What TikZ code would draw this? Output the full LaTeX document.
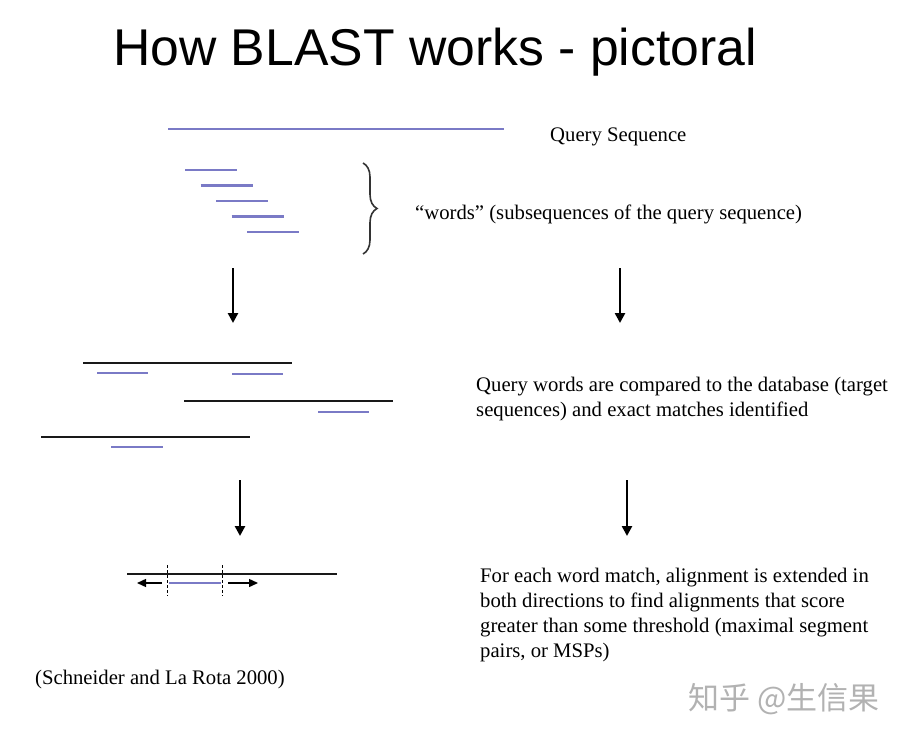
\documentclass[tikz,border=0pt]{standalone}
\usepackage{fontspec}
\setmainfont{Liberation Serif}
\newfontfamily\titlefont{Liberation Sans}
\newfontfamily\cjkfont{Noto Sans CJK SC}
\usepackage{xcolor}
\usetikzlibrary{arrows.meta, decorations.pathreplacing, calc}

\definecolor{qblue}{RGB}{122,122,198}

\begin{document}
\begin{tikzpicture}[
    x=1pt, y=-1pt,
    seq/.style   = {line width=2.8pt, qblue},
    target/.style= {line width=2.8pt, black!90},
    txt/.style   = {anchor=base west, inner sep=0pt, align=left,
                    font=\fontsize{20.7}{24.7}\selectfont},
    flow/.style  = {-{Triangle[length=10pt,width=10pt]}, line width=2.6pt},
    cut/.style   = {densely dashed, line width=0.9pt},
  ]
  \useasboundingbox[fill=white] (0,0) rectangle (909,735);

  % title
  \node[anchor=base west, inner sep=0pt, font=\titlefont\fontsize{51.7}{60}\selectfont]
    (title) at (113,66) {How BLAST works - pictoral};

  % query and words
  \draw[seq] (168,129) -- (504,129);
  \foreach \i in {0,...,4}
    \draw[seq] ({185+15.5*\i},{170+15.5*\i}) -- ++(52,0);
  \draw[line width=1.6pt, black!80, decorate, decoration={brace, amplitude=14pt}]
    (363,163) -- (363,254);
  \node[txt] (query) at (550,142) {Query Sequence};
  \node[txt] (words) at (415,219) {``words'' (subsequences of the query sequence)};

  % first step arrows
  \coordinate (a1) at (233,268); \coordinate (a2) at (233,323);
  \coordinate (b1) at (620,268); \coordinate (b2) at (620,323);
  \draw[flow] (a1) -- (a2);
  \draw[flow] (b1) -- (b2);

  % database hits
  \draw[target] (83,363) -- (292,363);
  \draw[seq] (97,373) -- (148,373);
  \draw[seq] (232,374) -- (283,374);
  \draw[target] (184,401) -- (393,401);
  \draw[seq] (318,412) -- (369,412);
  \draw[target] (41,437) -- (250,437);
  \draw[seq] (111,447) -- (163,447);
  \node[txt] (compare) at (476,416)
    {Query words are compared to the database (target\\
     sequences) and exact matches identified};

  % second step arrows
  \coordinate (c1) at (240,480); \coordinate (c2) at (240,536);
  \coordinate (d1) at (627,480); \coordinate (d2) at (627,536);
  \draw[flow] (c1) -- (c2);
  \draw[flow] (d1) -- (d2);

  % extension
  \draw[target] (127,574) -- (337,574);
  \draw[seq, line width=2pt] (169,583) -- (221,583);
  \draw[cut] (167,565) -- (167,596);
  \draw[cut] (222,565) -- (222,596);
  \coordinate (e1) at (162,583); \coordinate (e2) at (137,583);
  \coordinate (f1) at (228,583); \coordinate (f2) at (258,583);
  \draw[-{Triangle[length=9pt,width=8pt]}, line width=1.4pt] (e1) -- (e2);
  \draw[-{Triangle[length=9pt,width=8pt]}, line width=1.4pt] (f1) -- (f2);
  \node[txt] (extend) at (480,657)
    {For each word match, alignment is extended in\\
     both directions to find alignments that score\\
     greater than some threshold (maximal segment\\
     pairs, or MSPs)};

  \node[txt] (cite) at (35,684) {(Schneider and La Rota 2000)};
  \node[anchor=base west, inner sep=0pt, text=black!30, font=\cjkfont\fontsize{31}{36}\selectfont]
    (mark) at (688,709) {知乎 @生信果};
\end{tikzpicture}
\end{document}
